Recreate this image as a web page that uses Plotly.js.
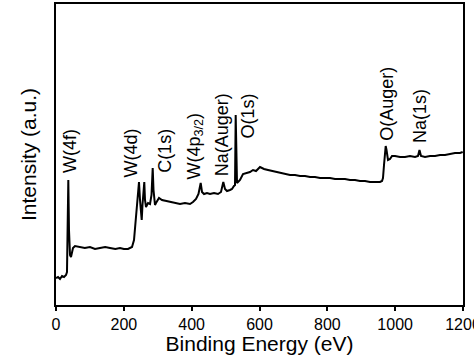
<!DOCTYPE html>
<html>
<head>
<meta charset="utf-8">
<script src="https://cdn.plot.ly/plotly-3.0.1.min.js"></script>
<style>html,body{margin:0;padding:0;background:#fff;}#chart{width:474px;height:355px;}</style>
</head>
<body>
<div id="chart"></div>
<script>
// Binding energy (eV)
var energy = [0,5.9,11.8,17.7,23.6,29.5,32.4,36.3,38.3,41.3,44.2,47.2,50.1,56.0,70.8,85,100.2,115,129.7,145,159.2,175,188.7,200,212.3,224.1,230.0,235.9,241.8,244.7,247.7,250.6,252.7,255.0,258.0,260.3,262.4,265.4,271.3,277.2,281.6,285.1,287.5,291.9,294.8,300.7,303.7,312.5,324.3,336.1,350.9,365.6,380.3,395.1,403.9,412.8,420.1,426.6,430.5,436.4,445.2,454.1,465.9,477.6,486.5,493.3,498.3,504.2,513.0,518.9,524.8,527.8,529.8,531.6,533.7,536.6,542.5,551.4,562.3,572.0,580.8,589.7,601.5,613.3,625.1,636.9,648.6,660.4,675.2,689.9,704.7,719.4,734.2,748.9,763.6,778.4,793.1,807.9,822.6,837.3,852.1,866.8,881.6,896.3,911.1,925.8,940.5,955.3,961.2,964.1,967.1,970.0,972.1,974.5,978.9,984.8,990.7,999.5,1014.3,1029.0,1043.7,1058.5,1067.3,1071.7,1076.2,1088.0,1102.7,1117.5,1132.2,1146.9,1161.7,1176.4,1191.2,1199.1];
// Intensity (a.u.)
var intensity = [27,28,26,29,28,30,33,125,75,50,48,53,57,59,58,57,58,56,57,58,57,56,57,56,56,58,65,90,110,123,105,90,85,100,122,123,105,98,102,101,110,137,115,100,102,106,107,105,104,103,102,101,102,101,103,106,111,122,113,111,112,111,112,111,113,123,116,114,115,116,119,120,190,155,122,123,125,131,132,133,135,134,138,136,135,134,133,132,131,130,130,129,129,128,128,127,127,127,126,126,126,125,125,124,124,123,123,123,124,127,140,150,159,155,145,146,149,149,148,148,149,148,149,155,149,148,149,149,150,150,151,152,152,153];

var labels = ["W(4f)","W(4d)","C(1s)","W(4p<sub>3/2</sub>)","Na(Auger)","O(1s)","O(Auger)","Na(1s)"];
var labelX = [41,221,321,410,489,566,975,1073];
var labelY = [130,126,130,123,127,165,162,160];

var fontFam = "Liberation Sans, Arial, sans-serif";
var annotations = labels.map(function(t,i){
  return {x: labelX[i], y: labelY[i], xref:'x', yref:'y', text: t, showarrow:false,
    textangle:-90, xanchor:'center', yanchor:'bottom',
    font:{family:fontFam, size:18, color:'#000'}};
});

Plotly.newPlot('chart', [{
  x: energy, y: intensity, type:'scatter', mode:'lines',
  line:{color:'#000', width:2}, hoverinfo:'skip'
}], {
  width:474, height:355,
  margin:{l:56, r:11, t:4, b:50},
  paper_bgcolor:'#fff', plot_bgcolor:'#fff',
  showlegend:false,
  font:{family:fontFam, color:'#000'},
  xaxis:{range:[0,1200], tickvals:[0,200,400,600,800,1000,1200], ticktext:['0','200','400','600','800','1000','1200'],
    ticks:'outside', ticklen:4, tickwidth:2, tickcolor:'#000', ticklabeloverflow:'allow',
    showline:true, linecolor:'#000', linewidth:2, mirror:true,
    showgrid:false, zeroline:false,
    tickfont:{size:16, family:fontFam, color:'#000'},
    title:{text:'Binding Energy (eV)', font:{size:21, family:fontFam, color:'#000'}, standoff:5}},
  yaxis:{range:[0,301], showticklabels:false, ticks:'',
    showline:true, linecolor:'#000', linewidth:2, mirror:true,
    showgrid:false, zeroline:false,
    title:{text:'Intensity (a.u.)', font:{size:21, family:fontFam, color:'#000'}, standoff:12}},
  annotations: annotations
}, {staticPlot:true, displayModeBar:false});
</script>
</body>
</html>
